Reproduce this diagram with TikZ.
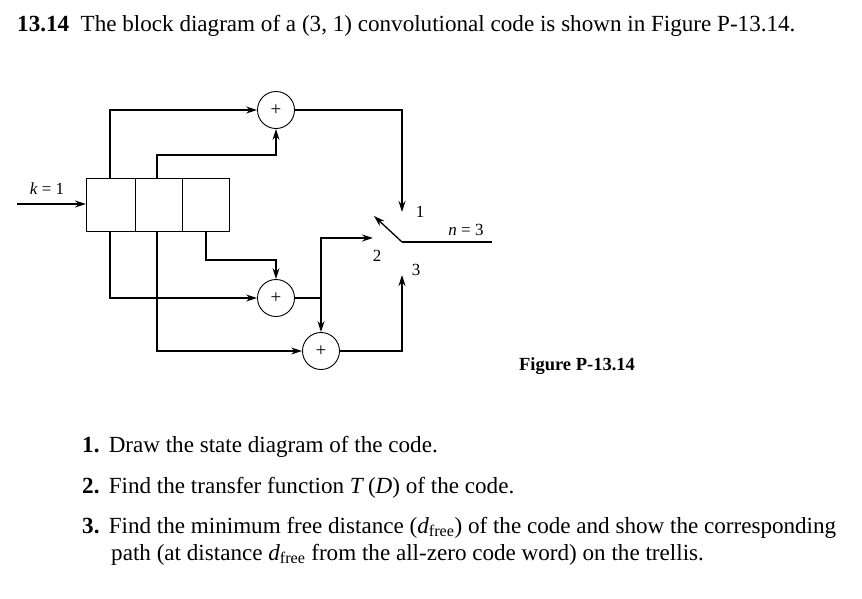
\documentclass[tikz,border=0pt]{standalone}
\usepackage{fontspec}
\setmainfont{Liberation Serif}
\usetikzlibrary{arrows.meta}
\begin{document}
\begin{tikzpicture}[x=1pt,y=-1pt,
  add/.style={circle,draw,line width=0.9pt,minimum size=37pt,inner sep=0pt,font=\fontsize{19}{19}\selectfont},
  w/.style={line width=1.3pt},
  a/.style={w,-{Stealth[length=11pt,width=7pt]}},
  lbl/.style={font=\fontsize{17}{17}\selectfont},
  txt/.style={anchor=base west,font=\fontsize{23.1}{23}\selectfont,inner sep=0pt}]
\useasboundingbox (0,0) rectangle (862,598);
\node[txt] (title) at (17,31) {\textbf{13.14}\hspace{0.5em}The block diagram of a (3, 1) convolutional code is shown in Figure P-13.14.};
\draw[line width=0.9pt] (86,178) rectangle (229,231);
\draw[line width=0.9pt] (135,178) -- (135,231) (182,178) -- (182,231);
\coordinate (reg) at (86,204);
\coordinate (in) at (17,204);
\draw[a] (in) -- (reg);
\node[lbl] (k) at (47,189) {\textit{k} = 1};
\node[add] (A1) at (276,110) {+};
\node[add] (A2) at (276,298) {+};
\node[add] (A3) at (321,351) {+};
\coordinate (s1) at (402,212);
\coordinate (s2) at (373,238);
\coordinate (s3) at (402,275);
\coordinate (piv) at (402,242);
\coordinate (sw) at (374,216);
\coordinate (out) at (492,242);
\coordinate (j) at (321,298);
\draw[a] (110,178) -- (110,110) -- (A1.west);
\draw[a] (157,178) -- (157,155) -- (276,155) -- (A1.south);
\draw[a] (A1.east) -- (402,110) -- (s1);
\draw[a] (110,231) -- (110,298) -- (A2.west);
\draw[a] (206,231) -- (206,260) -- (276,260) -- (A2.north);
\draw[a] (157,231) -- (157,351) -- (A3.west);
\draw[w] (A2.east) -- (j);
\draw[a] (j) -- (321,238) -- (s2);
\draw[a] (j) -- (A3.north);
\draw[a] (A3.east) -- (402,351) -- (s3);
\draw[a] (piv) -- (sw);
\draw[w] (piv) -- (out);
\node[lbl] (l1) at (420,212) {1};
\node[lbl] (l2) at (377,256) {2};
\node[lbl] (l3) at (416,270) {3};
\node[lbl] (n) at (466,230) {\textit{n} = 3};
\node[font=\fontsize{18.5}{18}\selectfont\bfseries] (fig) at (577,366) {Figure P-13.14};
\node[txt] (i1) at (82,452) {\textbf{1.}\hspace{0.4em}Draw the state diagram of the code.};
\node[txt] (i2) at (82,493) {\textbf{2.}\hspace{0.4em}Find the transfer function \textit{T}\,(\textit{D}) of the code.};
\node[txt] (i3) at (82,533) {\textbf{3.}\hspace{0.4em}Find the minimum free distance (\textit{d}\textsubscript{free}) of the code and show the corresponding};
\node[txt] (i4) at (111,560) {path (at distance \textit{d}\textsubscript{free} from the all-zero code word) on the trellis.};
\end{tikzpicture}
\end{document}
